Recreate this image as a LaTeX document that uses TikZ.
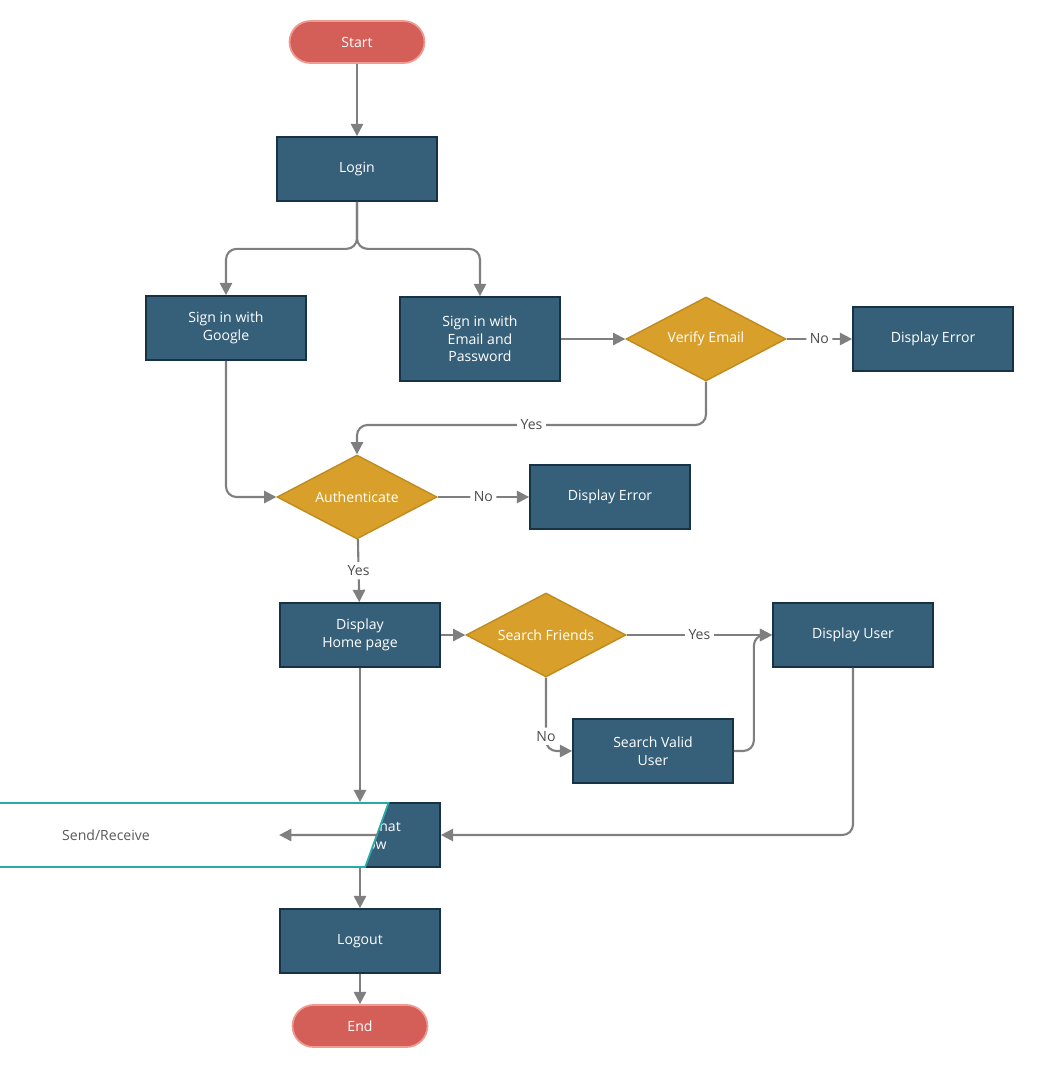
\documentclass[tikz,border=0pt]{standalone}
\usepackage{fontspec}
\setmainfont{Open Sans}
\usetikzlibrary{arrows.meta,shapes.geometric}
\definecolor{bx}{HTML}{36607A}
\definecolor{bxd}{HTML}{173245}
\definecolor{dm}{HTML}{D8A02A}
\definecolor{dmd}{HTML}{C08A1E}
\definecolor{rd}{HTML}{D45F58}
\definecolor{rdl}{HTML}{F09A92}
\definecolor{tl}{HTML}{27AAA8}
\definecolor{ln}{HTML}{7F7F7F}
\tikzset{
  px/.style={x=0.02cm,y=-0.02cm},
  base/.style={font=\fontsize{8}{10}\selectfont, text=white, align=center, inner sep=0pt},
  box/.style={base, draw=bxd, fill=bx, line width=1pt, minimum width=3.2cm, minimum height=1.28cm},
  term/.style={base, draw=rdl, fill=rd, line width=1pt, rounded corners=0.42cm, minimum width=2.7cm, minimum height=0.84cm},
  dec/.style={base, diamond, aspect=1.9, draw=dmd, fill=dm, line width=0.8pt, minimum width=3.2cm, minimum height=1.68cm},
  io/.style={base, trapezium, trapezium left angle=70, trapezium right angle=110, draw=tl, fill=white, text=black!65, line width=1pt, minimum width=2.6cm, minimum height=1.28cm},
  flow/.style={draw=ln, line width=1.2pt, rounded corners=6pt, -{Triangle[length=7pt,width=7pt]}},
  lbl/.style={fill=white, font=\fontsize{8}{10}\selectfont, text=black!70, inner sep=2pt}
}
\begin{document}
\begin{tikzpicture}[px]
  \useasboundingbox (0,0) rectangle (1041,1069);

  % Nodes
  \node[term] (start) at (357,42) {Start};
  \node[box] (login) at (357,169) {Login};
  \node[box] (google) at (226,328) {Sign in with\\Google};
  \node[box, minimum height=1.68cm] (email) at (480,339) {Sign in with\\Email and\\Password};
  \node[dec] (verify) at (706,339) {Verify Email};
  \node[box] (err1) at (933,339) {Display Error};
  \node[dec] (auth) at (357,497) {Authenticate};
  \node[box] (err2) at (610,497) {Display Error};
  \node[box] (home) at (360,635) {Display\\Home page};
  \node[dec] (search) at (546,635) {Search Friends};
  \node[box] (user) at (853,635) {Display User};
  \node[box] (valid) at (653,751) {Search Valid\\User};
  \node[box] (chat) at (360,835) {Display Chat\\Window};
  \node[io] (send) at (106,835) {Send/Receive};
  \node[box] (logout) at (360,941) {Logout};
  \node[term] (end) at (360,1026) {End};

  % Connectors
  \draw[flow] (start) -- (login);
  \draw[flow] (login.south) -- ++(0,47) -| (google.north);
  \draw[flow] (login.south) -- ++(0,47) -| (email.north);
  \draw[flow] (email) -- (verify);
  \draw[flow] (verify) -- node[lbl] {No} (err1);
  \draw[flow] (verify.south) |- node[lbl, pos=0.75] {Yes} (357,425) -- (auth.north);
  \draw[flow] (google.south) |- (auth.west);
  \draw[flow] (auth) -- node[lbl] {No} (err2);
  \draw[flow] (auth) -- node[lbl] {Yes} (home);
  \draw[flow] (home) -- (search);
  \draw[flow] (search) -- node[lbl] {Yes} (user);
  \draw[flow] (search.south) |- node[lbl, pos=0.4] {No} (valid.west);
  \draw[flow] (valid.east) -- ++(20,0) |- (user.west);
  \draw[flow] (user.south) |- (chat.east);
  \draw[flow] (home) -- (chat);
  \draw[flow] (send) -- (chat);
  \draw[flow] (chat) -- (logout);
  \draw[flow] (logout) -- (end);
\end{tikzpicture}
\end{document}
